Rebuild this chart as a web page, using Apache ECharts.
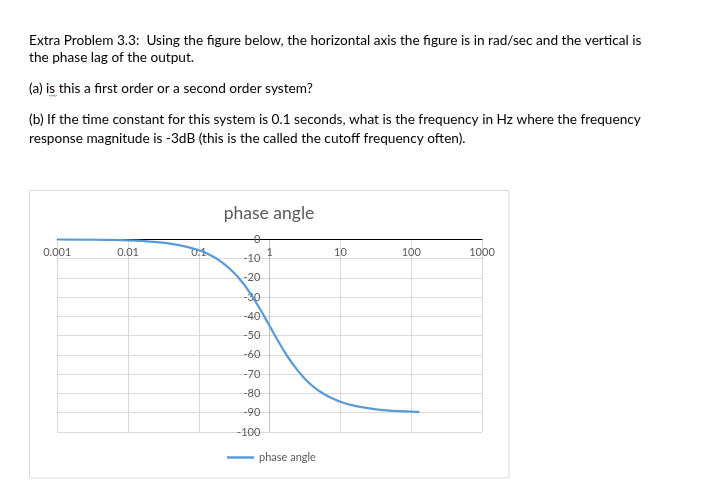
<!DOCTYPE html>
<html>
<head>
<meta charset="utf-8">
<script src="https://cdn.jsdelivr.net/npm/echarts@6/dist/echarts.min.js"></script>
<style>
html,body{margin:0;padding:0;background:#fff;}
#c{width:715px;height:488px;}
</style>
</head>
<body>
<div id="c"></div>
<script>
// ---- data ----
const frequencies = [0.001,0.002,0.005,0.01,0.02,0.05,0.1,0.15,0.2,0.3,0.4,0.5,0.7,1,1.5,2,3,4,5,7,10,15,20,30,50,70,100,130];
const phaseAngles = [-0.06,-0.11,-0.29,-0.57,-1.15,-2.9,-5.7,-8.5,-11.3,-16.7,-21.8,-26.6,-35,-45,-56.3,-63.4,-71.6,-76,-78.7,-81.9,-84.3,-86.2,-87.1,-88.1,-88.9,-89.2,-89.4,-89.6];
const xTickLabels = ['0.001','0.01','0.1','1','10','100','1000'];
const yTickLabels = ['-100','-90','-80','-70','-60','-50','-40','-30','-20','-10','0'];
const seriesName = 'phase angle';
const chartTitle = 'phase angle';
const problemLines = [
  'Extra Problem 3.3:  Using the figure below, the horizontal axis the figure is in rad/sec and the vertical is',
  'the phase lag of the output.',
  '(a) is this a first order or a second order system?',
  '(b) If the time constant for this system is 0.1 seconds, what is the frequency in Hz where the frequency',
  'response magnitude is -3dB (this is the called the cutoff frequency often).'
];

// ---- layout ----
const lineY = [41, 57.5, 89, 120, 138.3];
const gridLeft = 57.3, gridRight = 482, gridTop = 239.3, gridBottom = 432;
const gridH = gridBottom - gridTop;
const yAxisX = 269.3;

const chart = echarts.init(document.getElementById('c'), null, {renderer: 'canvas'});
const textFont = 'Lato, "Open Sans", sans-serif';

const graphics = [
  {type:'rect', shape:{x:29.5, y:190.5, width:479.5, height:287.5}, style:{fill:'none', stroke:'#d9d9d9', lineWidth:1}, z:0},
  {type:'polyline', shape:{points:[[49,95],[50.3,96.3],[51.6,95],[52.9,96.3],[54.2,95],[55.5,96.3],[56.8,95]]},
    style:{stroke:'#4f7fd6', lineWidth:0.9, fill:'none'}}
];
problemLines.forEach((t,i)=>{
  graphics.push({type:'text', x:29, y:lineY[i], style:{text:t, font:'13.65px ' + textFont, fill:'#000', textVerticalAlign:'middle', verticalAlign:'middle'}});
});

chart.setOption({
  animation:false,
  title:{text:chartTitle, left:264, top:199, textAlign:'center',
    textStyle:{fontFamily:textFont, fontSize:17.5, fontWeight:'normal', color:'#595959'}},
  legend:{data:[{name:seriesName, icon:'rect'}], left:227, top:452, padding:0, itemWidth:27, itemHeight:2.5,
    textStyle:{fontFamily:textFont, fontSize:11, color:'#595959'}},
  grid:{left:gridLeft, right:715-gridRight, top:gridTop, height:gridH, containLabel:false},
  xAxis:{type:'log', logBase:10, min:0.001, max:1000, position:'bottom', offset:-gridH,
    axisLine:{onZero:false, lineStyle:{color:'#000', width:1}},
    axisTick:{show:false},
    splitLine:{show:true, lineStyle:{color:'#d9d9d9', width:1}},
    axisLabel:{fontFamily:textFont, fontSize:11, color:'#595959', margin:8,
      formatter:(v)=>xTickLabels[Math.round(Math.log10(v))+3]}},
  yAxis:{type:'value', min:-100, max:0, interval:10, position:'left', offset:-(yAxisX-gridLeft),
    axisLine:{show:true, onZero:false, lineStyle:{color:'#bfbfbf', width:1}},
    axisTick:{show:false},
    splitLine:{show:true, lineStyle:{color:'#d9d9d9', width:1}},
    axisLabel:{fontFamily:textFont, fontSize:11, color:'#595959', margin:9,
      formatter:(v)=>yTickLabels[Math.round((v+100)/10)]}},
  graphic:graphics,
  series:[{name:seriesName, type:'line', smooth:true, showSymbol:false, symbol:'none',
    data:frequencies.map((f,i)=>[f, phaseAngles[i]]),
    lineStyle:{color:'#5b9bd5', width:2.25}, itemStyle:{color:'#5b9bd5'}, z:5}]
});
</script>
</body>
</html>
